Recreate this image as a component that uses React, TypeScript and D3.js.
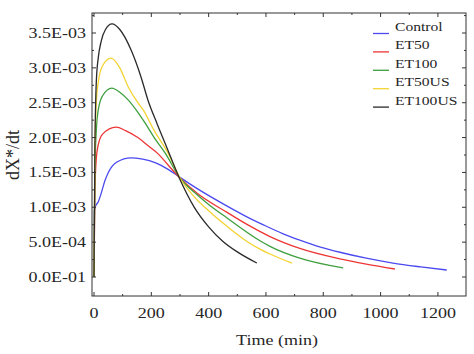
import React from "react";
import * as d3 from "d3";

const controlT = [0, 1, 6, 15, 25, 38, 50, 80, 129, 170, 213, 260, 300, 363, 463, 530, 595, 660, 718, 790, 858, 950, 1043, 1140, 1231];
const controlV = [0, 0.00095, 0.00102, 0.00108, 0.0012, 0.00138, 0.0015, 0.00165, 0.00171, 0.00169, 0.00164, 0.00154, 0.00143, 0.00126, 0.00102, 0.00087, 0.00074, 0.00062, 0.00053, 0.00043, 0.000355, 0.00027, 0.0002, 0.000145, 0.0001];

const et50T = [0, 3, 8, 15, 30, 77, 110, 153, 190, 223, 260, 300, 360, 463, 540, 614, 718, 858, 950, 1050];
const et50V = [0, 0.0012, 0.0017, 0.0019, 0.00205, 0.00215, 0.0021, 0.002, 0.00188, 0.00177, 0.0016, 0.00142, 0.0012, 0.00093, 0.00074, 0.00058, 0.00041, 0.00026, 0.000185, 0.000115];

const et100T = [0, 3, 8, 15, 30, 62, 90, 119, 150, 178, 210, 248, 300, 360, 400, 463, 579, 614, 718, 869];
const et100V = [0, 0.0015, 0.0021, 0.0024, 0.0026, 0.00271, 0.00265, 0.00254, 0.00238, 0.00221, 0.002, 0.00178, 0.00142, 0.00118, 0.00104, 0.00085, 0.00052, 0.00044, 0.00027, 0.00013];

const et50usT = [0, 3, 8, 15, 30, 59, 90, 119, 153, 171, 210, 258, 300, 350, 400, 463, 530, 579, 614, 691];
const et50usV = [0, 0.0018, 0.0025, 0.0028, 0.00303, 0.00314, 0.003, 0.00273, 0.0025, 0.0024, 0.0021, 0.00178, 0.00142, 0.00115, 0.00095, 0.00073, 0.00052, 0.0004, 0.00033, 0.0002];

const et100usT = [0, 3, 8, 15, 25, 40, 63, 90, 129, 164, 188, 220, 248, 300, 350, 400, 450, 500, 568];
const et100usV = [0, 0.0018, 0.0028, 0.00315, 0.00338, 0.00355, 0.00363, 0.00355, 0.00326, 0.00287, 0.00254, 0.0022, 0.00192, 0.0014, 0.001, 0.00072, 0.00051, 0.00036, 0.0002];

const seriesNames = ["Control", "ET50", "ET100", "ET50US", "ET100US"];
const seriesColors = ["#4a4af0", "#ee3535", "#3f9f3f", "#f3d332", "#2a2a2a"];
const seriesT = [controlT, et50T, et100T, et50usT, et100usT];
const seriesV = [controlV, et50V, et100V, et50usV, et100usV];

const xTicks = [0, 200, 400, 600, 800, 1000, 1200];
const xMinor = [100, 300, 500, 700, 900, 1100];
const yTicks = [0, 0.0005, 0.001, 0.0015, 0.002, 0.0025, 0.003, 0.0035];
const yTickLabels = ["0.0E-01", "5.0E-04", "1.0E-03", "1.5E-03", "2.0E-03", "2.5E-03", "3.0E-03", "3.5E-03"];
const yMinor = [0.00025, 0.00075, 0.00125, 0.00175, 0.00225, 0.00275, 0.00325, 0.00375];

const FONT = "'Liberation Serif', 'Times New Roman', serif";
const SX = 1.2;
const TEXT_COLOR = "#262626";

function Txt({ x, y, anchor = "start", size = 15, children }: any) {
  return (
    <text
      transform={`translate(${x},${y}) scale(${SX},1)`}
      textAnchor={anchor}
      fontFamily={FONT}
      fontSize={size}
      fill={TEXT_COLOR}
    >
      {children}
    </text>
  );
}

export default function App() {
  const x = d3.scaleLinear().domain([-7, 1298]).range([92, 466]);
  const y = d3.scaleLinear().domain([-0.0002725, 0.003787]).range([296, 13]);
  const [L, R] = x.range();
  const [B, T] = y.range();

  const line = d3
    .line<[number, number]>()
    .x((d) => x(d[0]))
    .y((d) => y(d[1]))
    .curve(d3.curveMonotoneX);

  const axisColor = "#333";

  return (
    <svg
      width={474}
      height={354}
      style={{ position: "absolute", left: 0, top: 0, background: "#fff" }}
    >
      <rect x={0} y={0} width={474} height={354} fill="#fff" />
      {seriesT.map((ts, i) => (
        <path
          key={seriesNames[i]}
          d={line(ts.map((t, j) => [t, seriesV[i][j]]) as [number, number][]) || ""}
          fill="none"
          stroke={seriesColors[i]}
          strokeWidth={1.3}
        />
      ))}
      <rect x={L} y={T} width={R - L} height={B - T} fill="none" stroke={axisColor} strokeWidth={1} />
      {xTicks.map((t) => (
        <g key={"xt" + t}>
          <line x1={x(t)} x2={x(t)} y1={B} y2={B - 4} stroke={axisColor} />
          <line x1={x(t)} x2={x(t)} y1={T} y2={T + 4} stroke={axisColor} />
          <Txt x={x(t)} y={318} anchor="middle">{String(t)}</Txt>
        </g>
      ))}
      {xMinor.map((t) => (
        <g key={"xm" + t}>
          <line x1={x(t)} x2={x(t)} y1={B} y2={B - 2} stroke={axisColor} />
          <line x1={x(t)} x2={x(t)} y1={T} y2={T + 2} stroke={axisColor} />
        </g>
      ))}
      {yTicks.map((v, i) => (
        <g key={"yt" + v}>
          <line x1={L} x2={L + 4} y1={y(v)} y2={y(v)} stroke={axisColor} />
          <line x1={R} x2={R - 4} y1={y(v)} y2={y(v)} stroke={axisColor} />
          <Txt x={86} y={y(v) + 5} anchor="end">{yTickLabels[i]}</Txt>
        </g>
      ))}
      {yMinor.map((v) => (
        <g key={"ym" + v}>
          <line x1={L} x2={L + 2} y1={y(v)} y2={y(v)} stroke={axisColor} />
          <line x1={R} x2={R - 2} y1={y(v)} y2={y(v)} stroke={axisColor} />
        </g>
      ))}
      <Txt x={277} y={345} anchor="middle">Time (min)</Txt>
      <text
        transform={`translate(19,155) rotate(-90)`}
        textAnchor="middle"
        fontFamily={FONT}
        fontSize={18}
        fill={TEXT_COLOR}
      >
        dX*/dt
      </text>
      {seriesNames.map((n, i) => {
        const by = 31 + i * 18.4;
        return (
          <g key={"lg" + n}>
            <line x1={373} x2={389} y1={by + 2.5} y2={by + 2.5} stroke={seriesColors[i]} strokeWidth={1.3} />
            <Txt x={395} y={by} size={13}>{n}</Txt>
          </g>
        );
      })}
    </svg>
  );
}
